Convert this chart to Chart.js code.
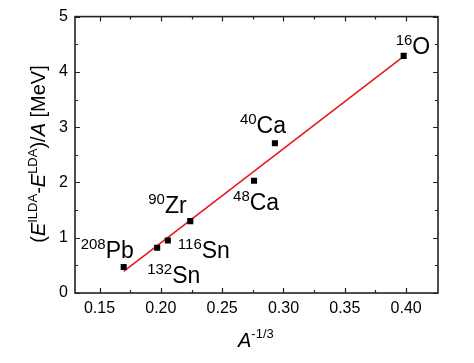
<!DOCTYPE html>
<html>
<head>
<meta charset="utf-8">
<script src="https://cdn.jsdelivr.net/npm/chart.js@4.4.1/dist/chart.umd.min.js"></script>
<style>
  html, body { margin: 0; padding: 0; background: #fff; }
  canvas { display: block; }
</style>
</head>
<body>
<canvas id="chart" width="474" height="363"></canvas>
<script>
// Данные: ядра, A^-1/3 и (E_ILDA - E_LDA)/A
const nuclei = ["Pb", "Sn", "Sn", "Zr", "Ca", "Ca", "O"];
const massNumbers = ["208", "132", "116", "90", "48", "40", "16"];
const xValues = [0.1697, 0.1970, 0.2057, 0.2240, 0.2760, 0.2930, 0.3980];
const yValues = [0.47, 0.82, 0.95, 1.30, 2.03, 2.71, 4.29];

// Линейная аппроксимация (концы прямой)
const fitX = [0.1697, 0.3980];
const fitY = [0.39, 4.28];

// Деления осей
const xMajor = [0.15, 0.20, 0.25, 0.30, 0.35, 0.40];
const xMinor = [0.175, 0.225, 0.275, 0.325, 0.375];
const yMajor = [0, 1, 2, 3, 4, 5];
const yMinor = [0.5, 1.5, 2.5, 3.5, 4.5];

// Смещения подписей относительно точки (в пикселях)
const labelOffsets = [[-43, -9], [-10, 35], [10, 18], [-42, -8], [-21, 29], [-35, -10], [-8, -2]];

const FONT = "'Liberation Sans', Arial, sans-serif";

// Рисование текста с надстрочными индексами и курсивом
function drawRich(ctx, parts, x, y, size, supSize, raise) {
  let cx = x;
  parts.forEach(p => {
    const fs = p.sup ? supSize : size;
    ctx.font = (p.italic ? "italic " : "") + fs + "px " + FONT;
    ctx.fillText(p.t, cx, p.sup ? y - raise : y);
    cx += ctx.measureText(p.t).width;
  });
  return cx - x;
}

function richWidth(ctx, parts, size, supSize) {
  let w = 0;
  parts.forEach(p => {
    const fs = p.sup ? supSize : size;
    ctx.font = (p.italic ? "italic " : "") + fs + "px " + FONT;
    w += ctx.measureText(p.t).width;
  });
  return w;
}

const framePlugin = {
  id: "frame",
  afterDatasetsDraw(chart) {
    const ctx = chart.ctx;
    const a = chart.chartArea;
    const xs = chart.scales.x;
    const ys = chart.scales.y;
    ctx.save();
    ctx.strokeStyle = "#222";
    ctx.lineWidth = 1.6;
    ctx.strokeRect(a.left, a.top, a.right - a.left, a.bottom - a.top);

    ctx.lineWidth = 1.2;
    ctx.beginPath();
    const tx = (v, len) => {
      const p = Math.round(xs.getPixelForValue(v)) + 0.5;
      ctx.moveTo(p, a.bottom); ctx.lineTo(p, a.bottom - len);
      ctx.moveTo(p, a.top); ctx.lineTo(p, a.top + len);
    };
    const ty = (v, len) => {
      const p = Math.round(ys.getPixelForValue(v)) + 0.5;
      ctx.moveTo(a.left, p); ctx.lineTo(a.left + len, p);
      ctx.moveTo(a.right, p); ctx.lineTo(a.right - len, p);
    };
    xMajor.forEach(v => tx(v, 5));
    xMinor.forEach(v => tx(v, 3));
    yMajor.forEach(v => ty(v, 5));
    yMinor.forEach(v => ty(v, 3));
    ctx.stroke();

    // Подписи ядер
    ctx.fillStyle = "#000";
    ctx.textBaseline = "alphabetic";
    ctx.textAlign = "left";
    nuclei.forEach((n, i) => {
      const px = xs.getPixelForValue(xValues[i]) + labelOffsets[i][0];
      const py = ys.getPixelForValue(yValues[i]) + labelOffsets[i][1];
      drawRich(ctx, [{ t: massNumbers[i], sup: true }, { t: n }], px, py, 23, 15, 9);
    });

    // Подпись оси X
    drawRich(ctx, [{ t: "A", italic: true }, { t: "-1/3", sup: true }], 238, 347, 20, 13, 9);

    // Подпись оси Y
    const yParts = [
      { t: "(" }, { t: "E", italic: true }, { t: "ILDA", sup: true },
      { t: "-" }, { t: "E", italic: true }, { t: "LDA", sup: true },
      { t: ")/" }, { t: "A", italic: true }, { t: " [MeV]" }
    ];
    const w = richWidth(ctx, yParts, 20, 13);
    ctx.translate(45, 154);
    ctx.rotate(-Math.PI / 2);
    drawRich(ctx, yParts, -w / 2, 0, 20, 13, 8);
    ctx.restore();
  }
};

const points = xValues.map((x, i) => ({ x: x, y: yValues[i] }));
const fitPoints = fitX.map((x, i) => ({ x: x, y: fitY[i] }));

new Chart(document.getElementById("chart").getContext("2d"), {
  type: "scatter",
  data: {
    datasets: [
      {
        type: "line",
        data: fitPoints,
        borderColor: "#e8141b",
        borderWidth: 1.5,
        pointRadius: 0,
        fill: false,
        order: 2,
      },
      {
        data: points,
        pointStyle: "rect",
        pointRadius: 4.3,
        pointBackgroundColor: "#000",
        pointBorderWidth: 0,
        order: 1,
      },
    ],
  },
  options: {
    responsive: false,
    animation: false,
    layout: { padding: { top: 9, right: 36, left: 0, bottom: 0 } },
    plugins: {
      legend: { display: false },
      tooltip: { enabled: false },
    },
    scales: {
      x: {
        type: "linear",
        min: 0.13,
        max: 0.426,
        afterBuildTicks: s => { s.ticks = xMajor.map(v => ({ value: v })); },
        afterFit: s => { s.height = 70; },
        grid: { display: false, drawTicks: false },
        border: { display: false },
        ticks: {
          padding: 6,
          color: "#000",
          font: { family: FONT, size: 16 },
          callback: v => v.toFixed(2),
        },
      },
      y: {
        type: "linear",
        min: 0,
        max: 5,
        afterBuildTicks: s => { s.ticks = yMajor.map(v => ({ value: v })); },
        afterFit: s => { s.width = 75; },
        grid: { display: false, drawTicks: false },
        border: { display: false },
        ticks: {
          padding: 7,
          color: "#000",
          font: { family: FONT, size: 16 },
        },
      },
    },
  },
  plugins: [framePlugin],
});
</script>
</body>
</html>
